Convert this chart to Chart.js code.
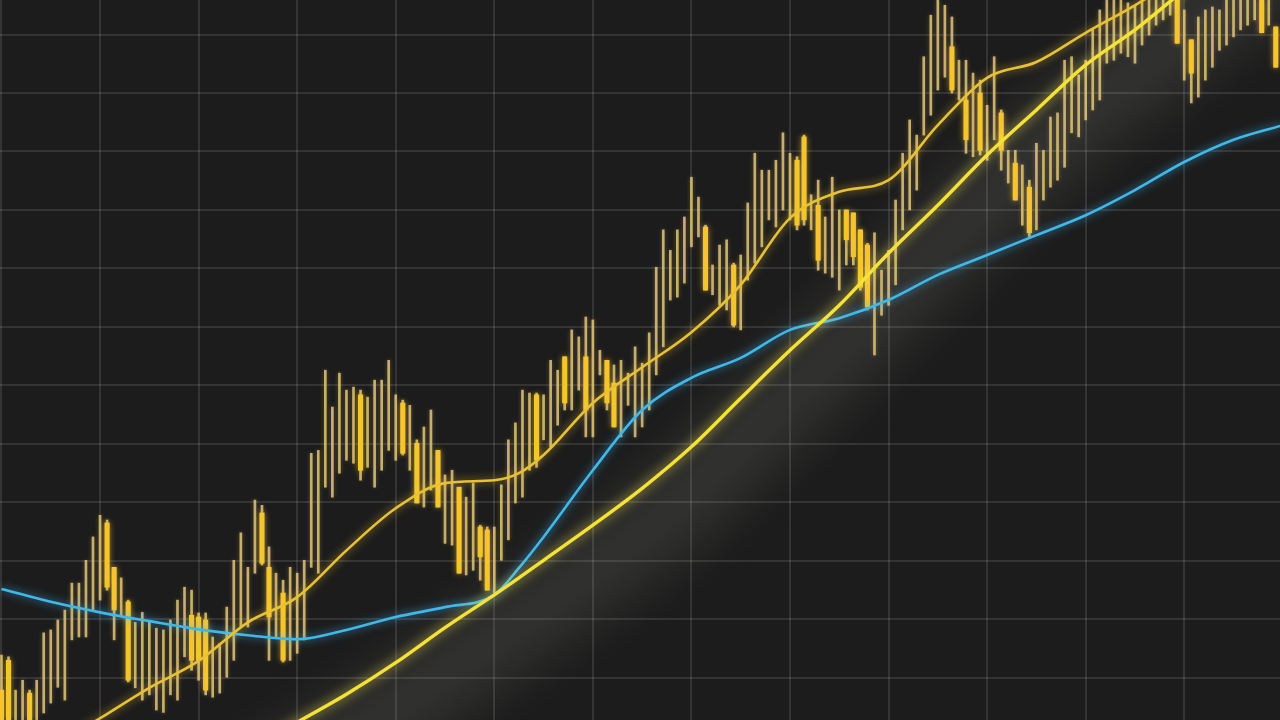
<!DOCTYPE html>
<html>
<head>
<meta charset="utf-8">
<title>Trend</title>
<script src="https://cdn.jsdelivr.net/npm/chart.js@4.4.1/dist/chart.umd.min.js"></script>
<style>
  html, body { margin: 0; padding: 0; background: #1c1c1c; overflow: hidden; }
  #wrap { width: 1280px; height: 720px; }
</style>
</head>
<body>
<div id="wrap"><canvas id="chart"></canvas></div>
<script>
// candle ranges, one per session (index = session number)
const highs = [
  13.9, 13.6, 7.9, 9.6, 7.9, 9.6, 17.7, 18.2, 19.9, 21.6,
  26.2, 26.2, 30.1, 34.1, 37.8, 37.0, 28.9, 27.1, 23.3, 19.5,
  21.2, 19.5, 18.5, 18.2, 19.9, 23.3, 25.5, 25.0, 21.1, 21.1,
  17.0, 15.9, 22.1, 30.1, 34.8, 28.9, 40.4, 39.5, 32.4, 27.9,
  26.7, 28.9, 27.9, 30.1, 48.4, 48.9, 62.6, 56.3, 62.1, 59.2,
  59.7, 59.2, 58.0, 60.9, 60.9, 64.3, 58.4, 57.5, 56.6, 50.7,
  52.9, 55.8, 48.9, 44.7, 45.5, 42.6, 40.9, 43.3, 36.1, 35.8,
  35.8, 43.0, 50.7, 53.6, 59.2, 58.7, 58.7, 58.4, 64.3, 62.6,
  64.9, 69.5, 68.3, 71.7, 71.2, 66.0, 64.3, 63.5, 64.3, 62.1,
  66.6, 63.8, 69.0, 80.2, 86.6, 83.1, 86.6, 88.8, 95.6, 92.2,
  87.4, 80.6, 84.0, 84.9, 80.9, 82.3, 91.2, 99.7, 96.8, 96.8,
  98.5, 103.2, 99.7, 99.1, 102.8, 92.6, 95.1, 88.8, 95.6, 90.0,
  90.0, 89.5, 86.6, 84.3, 86.1, 79.7, 83.1, 91.7, 99.7, 105.4,
  102.8, 116.2, 123.3, 125.9, 125.0, 123.0, 115.6, 115.6, 113.4, 112.2,
  107.9, 116.2, 107.1, 100.2, 100.2, 97.7, 95.1, 101.4, 100.2, 105.9,
  106.6, 115.6, 116.2, 113.1, 115.6, 120.8, 124.2, 125.9, 125.9, 125.9,
  125.4, 125.0, 126.5, 126.5, 126.5, 126.5, 126.5, 126.8, 124.2, 119.1,
  123.0, 124.2, 124.7, 124.2, 126.5, 126.5, 126.5, 126.8, 126.8, 126.8,
  126.8, 121.3
];
const lows = [
  2.8, 2.8, 2.8, 2.8, 2.8, 2.8, 4.0, 5.7, 8.4, 6.2,
  16.5, 17.0, 17.0, 21.6, 23.3, 25.0, 16.5, 20.7, 9.3, 8.3,
  6.2, 7.1, 4.5, 4.1, 7.1, 6.2, 13.6, 11.3, 9.6, 7.1,
  6.7, 7.4, 10.1, 13.0, 18.7, 18.7, 27.9, 29.3, 13.0, 17.0,
  12.7, 13.0, 14.2, 16.5, 28.9, 27.9, 42.6, 40.9, 45.0, 47.2,
  46.7, 43.8, 46.0, 42.6, 45.5, 48.9, 47.2, 48.1, 45.5, 39.9,
  39.2, 42.1, 39.2, 33.0, 32.7, 27.9, 27.6, 28.4, 26.7, 25.0,
  24.5, 30.1, 33.6, 39.9, 40.9, 45.5, 46.0, 50.7, 49.5, 53.2,
  55.8, 55.8, 59.2, 51.2, 51.2, 61.8, 55.8, 52.9, 51.2, 56.6,
  51.2, 52.9, 55.8, 61.8, 66.6, 74.6, 75.1, 77.5, 83.7, 85.4,
  76.3, 75.5, 73.7, 72.9, 70.0, 69.5, 78.0, 80.9, 83.7, 88.3,
  87.1, 90.0, 88.3, 86.6, 87.4, 86.6, 79.7, 79.2, 78.5, 76.3,
  80.6, 80.6, 76.3, 72.9, 65.2, 72.0, 73.7, 77.2, 86.6, 90.0,
  93.4, 102.8, 106.2, 110.5, 112.7, 110.0, 108.8, 99.7, 99.1, 99.4,
  98.5, 102.0, 96.8, 94.6, 91.7, 87.4, 85.4, 86.6, 91.7, 93.9,
  95.1, 97.3, 103.2, 102.5, 105.4, 107.1, 108.8, 115.1, 115.6, 116.8,
  116.2, 115.1, 118.2, 119.9, 121.6, 122.5, 123.3, 118.5, 112.2, 108.3,
  109.3, 112.2, 114.4, 117.3, 118.2, 119.6, 120.8, 121.6, 122.5, 120.3,
  121.6, 114.4
];

// sessions with a visible candle body (open/close span)
const bodyIdx = [0, 1, 4, 15, 16, 18, 27, 28, 29, 37, 38, 40, 51, 57, 59, 62, 65, 68, 69, 76, 80, 83, 86, 87,
  100, 104, 113, 114, 116, 120, 121, 122, 123, 135, 137, 139, 142, 144, 146, 167, 169, 179, 181];
const bodyTop = [7.9, 13.0, 7.4, 36.5, 28.9, 23.0, 20.7, 20.4, 19.9, 38.2, 28.9, 24.5, 58.4, 57.0, 50.1, 48.9, 42.6, 35.8, 35.3, 58.4, 64.9, 64.9, 64.3, 60.4,
  87.1, 80.6, 98.5, 102.5, 90.8, 90.0, 89.5, 86.6, 84.0, 117.9, 108.8, 110.0, 106.6, 98.0, 93.9, 125.9, 119.1, 125.9, 121.3];
const bodyBottom = [2.8, 2.8, 2.8, 25.5, 21.6, 9.6, 13.0, 13.0, 7.9, 29.6, 20.4, 13.0, 45.5, 48.4, 39.9, 39.2, 27.9, 30.7, 25.0, 47.2, 57.0, 55.8, 57.0, 52.9,
  76.3, 70.3, 87.4, 88.3, 81.4, 84.9, 82.0, 76.8, 73.4, 110.5, 102.0, 100.2, 100.2, 91.7, 86.1, 118.5, 113.4, 120.3, 114.4];

// smoothed lines, sampled at these sessions
const lineIdx = [0, 7, 14, 21, 28, 35, 42, 49, 56, 63, 70, 73.5, 77, 84, 91, 98, 105, 112, 119, 126, 133, 140, 147, 154, 161, 168, 175, 182];
const slowAvg = [25.2, 23.0, 21.2, 19.7, 18.3, 17.3, 16.6, 18.2, 20.4, 22.1, 24.2, 28.8, 34.1, 45.5, 55.8, 61.3, 64.7, 69.5, 71.5, 74.6, 78.9, 82.3, 85.7, 89.1, 93.4, 98.2, 102.0, 104.5];
const fastAvg = [null, -2.0, 3.1, 8.3, 12.9, 19.5, 23.8, 31.8, 39.0, 43.3, 43.8, 45.0, 48.1, 57.0, 63.1, 69.1, 77.2, 88.6, 93.1, 95.1, 104.5, 112.6, 115.3, 120.3, 125.0, 130.2, 134.0, 138.0];
const trend = [null, null, null, null, null, -2.5, 2.4, 7.2, 12.6, 18.6, 24.2, 27.1, 30.1, 36.1, 42.4, 49.5, 57.8, 66.0, 73.7, 82.6, 90.8, 99.4, 107.1, 114.8, 120.8, 127.6, 134.0, 140.0];

// grid
const xGridTicks = [0, 14, 28, 42, 56, 70, 84, 98, 112, 126, 140, 154, 168];
const yGridTicks = [10, 20, 30, 40, 50, 60, 70, 80, 90, 100, 110, 120];

const wickData = highs.map((h, i) => ({ x: i, y: [lows[i], h] }));
const bodyData = bodyIdx.map((idx, i) => ({ x: idx, y: [bodyBottom[i], bodyTop[i]] }));
const toPoints = arr => lineIdx.map((x, i) => ({ x: x, y: arr[i] }));

const glowStyles = {
  haze: { color: 'rgba(0,0,0,0)', blur: 0, filter: 'blur(26px)', dy: 46 },
  bodies: { color: 'rgba(255,200,50,0.55)', blur: 6 },
  wicks: { color: 'rgba(255,210,110,0.35)', blur: 4 },
  slow: { color: 'rgba(70,190,255,0.8)', blur: 8 },
  fast: { color: 'rgba(255,210,60,0.7)', blur: 8 },
  trend: { color: 'rgba(255,240,90,0.9)', blur: 12 }
};

const glowPlugin = {
  id: 'glow',
  beforeDatasetDraw(chart, args) {
    const g = glowStyles[chart.data.datasets[args.index].label];
    if (!g) return;
    const ctx = chart.ctx;
    ctx.save();
    if (g.filter) ctx.filter = g.filter;
    if (g.dy) ctx.translate(0, g.dy);
    ctx.shadowColor = g.color;
    ctx.shadowBlur = g.blur;
  },
  afterDatasetDraw(chart, args) {
    if (glowStyles[chart.data.datasets[args.index].label]) chart.ctx.restore();
  }
};

const ctx = document.getElementById('chart').getContext('2d');

new Chart(ctx, {
  type: 'bar',
  data: {
    datasets: [
      {
        type: 'line',
        label: 'haze',
        data: toPoints(trend),
        borderColor: 'rgba(235,235,215,0.11)',
        borderWidth: 80,
        pointRadius: 0,
        tension: 0.4,
        cubicInterpolationMode: 'monotone',
        clip: false,
        order: 6
      },
      {
        label: 'wicks',
        data: wickData,
        backgroundColor: 'rgba(225,198,122,0.85)',
        barThickness: 2,
        grouped: false,
        order: 5
      },
      {
        label: 'bodies',
        data: bodyData,
        backgroundColor: '#f4c52c',
        barThickness: 4.5,
        grouped: false,
        order: 4
      },
      {
        type: 'line',
        label: 'slow',
        data: toPoints(slowAvg),
        borderColor: '#3fb8ea',
        borderWidth: 2.6,
        pointRadius: 0,
        tension: 0.4,
        cubicInterpolationMode: 'monotone',
        order: 3
      },
      {
        type: 'line',
        label: 'fast',
        data: toPoints(fastAvg),
        borderColor: '#e8c232',
        borderWidth: 2.6,
        pointRadius: 0,
        tension: 0.4,
        cubicInterpolationMode: 'monotone',
        order: 2
      },
      {
        type: 'line',
        label: 'trend',
        data: toPoints(trend),
        borderColor: '#f6e236',
        borderWidth: 3.4,
        pointRadius: 0,
        tension: 0.4,
        cubicInterpolationMode: 'monotone',
        order: 1
      }
    ]
  },
  options: {
    responsive: true,
    maintainAspectRatio: false,
    animation: false,
    layout: { padding: 0 },
    plugins: { legend: { display: false }, tooltip: { enabled: false } },
    scales: {
      x: {
        type: 'linear',
        min: -0.21,
        max: 181.6,
        offset: false,
        ticks: { display: false },
        border: { display: false },
        grid: { color: 'rgba(255,255,255,0.11)', lineWidth: 2, drawTicks: false, offset: false },
        afterBuildTicks: scale => { scale.ticks = xGridTicks.map(v => ({ value: v })); }
      },
      y: {
        type: 'linear',
        min: 2.8,
        max: 125.9,
        ticks: { display: false },
        border: { display: false },
        grid: { color: 'rgba(255,255,255,0.11)', lineWidth: 2, drawTicks: false },
        afterBuildTicks: scale => { scale.ticks = yGridTicks.map(v => ({ value: v })); }
      }
    }
  },
  plugins: [glowPlugin]
});
</script>
</body>
</html>
